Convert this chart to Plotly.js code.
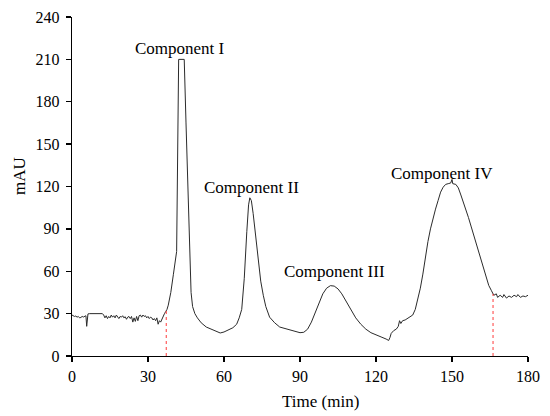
<!DOCTYPE html>
<html>
<head>
<meta charset="utf-8">
<script src="https://cdn.plot.ly/plotly-3.0.1.min.js"></script>
<style>
  html, body {margin: 0; padding: 0; background: #fff;}
  #graph {width: 550px; height: 416px;}
</style>
</head>
<body>
<div id="graph"></div>
<script>
//chromatogram: time (min) and absorbance (mAU)
const timeMin = [
  0, 0.5, 1, 1.5, 2, 2.5, 3, 3.5, 4, 4.5, 5, 5.5, 5.8, 6, 6.3, 7, 8, 9, 10, 11, 12,
  12.5, 13, 13.5, 14, 14.5, 15, 15.5, 16, 16.5, 17, 17.5, 18, 18.5, 19, 19.5, 20,
  20.5, 21, 21.5, 22, 22.5, 23, 23.5, 24, 24.5, 25, 25.5, 26, 26.5, 27, 27.5, 28,
  28.5, 29, 29.5, 30, 30.5, 31, 31.5, 32, 32.5, 33, 33.5, 34, 34.5, 35, 35.5, 36,
  36.5, 37, 37.5, 38, 39, 40, 41.3, 42.1, 44.3, 45, 45.5, 46, 46.5, 47, 47.6, 48.5,
  49.5, 51, 53, 55, 57, 58.5, 60, 62, 63.5, 65, 66, 67, 68, 69, 69.7, 70.2, 70.8,
  71.5, 72.5, 73.5, 74.5, 75.5, 76.5, 78, 80, 82, 84, 86, 88, 90, 91.5, 93, 94.5,
  96, 97.5, 99, 100.5, 102, 103.5, 105, 106.5, 108, 110, 112, 114, 116, 118, 120,
  122, 124, 125, 125.5, 126, 127, 128, 128.8, 129.3, 129.8, 130.5, 131.5, 132.5,
  133.5, 134.5, 135.5, 136.5, 137.5, 138.5, 139.5, 140.5, 141.5, 142.5, 143.5,
  144.5, 145.5, 146.5, 147.5, 148.5, 149.5, 150, 150.3, 151.5, 152.5, 153.5, 154.5,
  155.5, 156.5, 157.5, 158.5, 159.5, 160.5, 161.5, 162.5, 163.5, 164.5, 165.5, 166,
  166.5, 167.5, 168, 169, 170, 170.5, 171.5, 172.5, 173.5, 174.5, 175.5, 176, 177,
  178, 179, 180
]
const absorbance = [
  29, 28.5, 28, 28.3, 27.5, 28, 27, 27.3, 28, 27.6, 28, 28.5, 21, 29.5, 29.8, 30, 30, 30, 30, 30, 30,
  29, 27, 28.5, 26.5, 28, 27, 29, 27.5, 28.5, 27, 29, 28, 26.5, 28, 27.5, 28.5,
  27, 27.8, 26, 27.5, 28, 26.5, 28, 24, 27, 24.5, 28, 25, 28.5, 29, 27.5, 29,
  28, 28.5, 27, 28, 26.5, 27.5, 27, 25.5, 26.5, 25, 27, 22.5, 25, 24, 26.5, 28,
  30, 31.5, 33, 36, 45, 57.5, 74, 210, 210, 165, 133, 101, 69, 45, 35, 30,
  27, 23.5, 20.5, 18.8, 17, 16.3, 17, 18.5, 20, 22.5, 27, 33, 55, 88, 107, 112, 110,
  101, 86, 69, 53, 43, 35, 27.5, 23.5, 20.5, 19.5, 18.8, 17.5, 16.5, 16.8, 19, 24,
  31, 38, 44, 48, 49.8, 49.5, 47.5, 44, 39.5, 33, 27, 22.5, 19, 16.5, 14.8,
  13.5, 12, 11, 13, 16, 18, 19, 21, 25, 23, 25, 25.5, 26.5,
  27.5, 29, 33, 40, 48, 58, 70, 81, 90, 98, 104,
  110, 116, 119.5, 121.5, 122, 122.5, 125, 122, 121.5, 119, 114, 109,
  103, 98, 92, 86, 80, 74, 67, 61, 55, 50, 46.5, 45,
  43, 44, 41.5, 43, 41.5, 43.5, 41, 42.5, 41.5, 43, 42, 43.5, 41.5,
  42.5, 42, 43
]

//collection window limits (red dashed markers)
const cutTimes = [37.2, 166.2]
const cutHeights = [34, 44]

//peak labels
const peakNames = ['Component I', 'Component II', 'Component III', 'Component IV']
const peakLabelX = [42.6, 71, 103.5, 146]
const peakLabelY = [218, 119, 59.5, 129]

const serif = 'Liberation Serif'

const data = [{
  x: timeMin,
  y: absorbance,
  type: 'scatter',
  mode: 'lines',
  line: {color: '#2b2b2b', width: 1},
  hoverinfo: 'skip'
}]

//one short dashed trace per cut
cutTimes.forEach((t, i) => {
  data.push({
    x: [t, t],
    y: [0, cutHeights[i]],
    type: 'scatter',
    mode: 'lines',
    line: {color: '#ff3b3b', width: 1, dash: 'dot'},
    hoverinfo: 'skip'
  })
})

const annotations = peakNames.map((name, i) => ({
  x: peakLabelX[i],
  y: peakLabelY[i],
  xref: 'x',
  yref: 'y',
  text: name,
  showarrow: false,
  font: {family: serif, size: 17, color: '#000'},
  yanchor: 'middle'
}))

//axis titles placed as in the picture
annotations.push({
  x: 0.544, y: -0.1, xref: 'paper', yref: 'paper',
  text: 'Time (min)', showarrow: false, yanchor: 'top',
  font: {family: serif, size: 17, color: '#000'}
})
annotations.push({
  x: -0.115, y: 0.53, xref: 'paper', yref: 'paper',
  text: 'mAU', showarrow: false, textangle: -90, xanchor: 'center',
  font: {family: serif, size: 17, color: '#000'}
})

const layout = {
  width: 550,
  height: 416,
  showlegend: false,
  paper_bgcolor: '#fff',
  plot_bgcolor: '#fff',
  margin: {l: 72, r: 22, t: 17, b: 60, pad: 0},
  font: {family: serif, size: 16, color: '#000'},
  xaxis: {
    range: [0, 180],
    tickvals: [0, 30, 60, 90, 120, 150, 180],
    showgrid: false,
    zeroline: false,
    showline: true,
    linecolor: '#000',
    linewidth: 1.3,
    ticks: 'outside',
    ticklen: 5,
    tickwidth: 1.3,
    tickcolor: '#000',
    tickfont: {family: serif, size: 16, color: '#000'}
  },
  yaxis: {
    range: [0, 240],
    tickvals: [0, 30, 60, 90, 120, 150, 180, 210, 240],
    showgrid: false,
    zeroline: false,
    showline: true,
    linecolor: '#000',
    linewidth: 1.3,
    ticks: 'outside',
    ticklen: 5,
    tickwidth: 1.3,
    tickcolor: '#000',
    ticklabelstandoff: 3,
    tickfont: {family: serif, size: 16, color: '#000'}
  },
  annotations: annotations
}

const config = {displayModeBar: false, staticPlot: true}

Plotly.newPlot(document.getElementById('graph'), data, layout, config)
</script>
</body>
</html>
